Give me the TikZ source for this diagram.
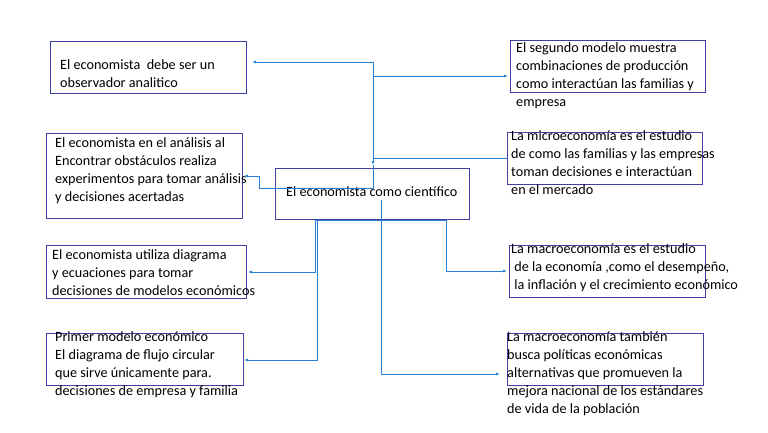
\documentclass[tikz,border=0pt]{standalone}
\usepackage{fontspec}
\setmainfont{Carlito}
\usetikzlibrary{arrows.meta}
\begin{document}
\begin{tikzpicture}[x=1pt,y=-1pt,
 bx/.style={draw=blue!45!gray!90!black,line width=0.9pt},
 tx/.style={anchor=north west,align=left,font=\fontsize{14.2}{18}\selectfont,inner sep=0pt},
 ln/.style={draw=blue!50!cyan!70!gray,line width=0.8pt},
 ar/.style={ln,-{Latex[length=4pt,width=3pt]}}]
\useasboundingbox (0,0) rectangle (768,433);
\draw[bx] (50,41) rectangle (246,93); \node[tx] (t1) at (60,59) {El economista\ \ debe ser un\\observador analitico};
\draw[bx] (510,40) rectangle (705,92); \node[tx] (t2) at (516,42) {El segundo modelo muestra\\combinaciones de producción\\como interactúan las familias y\\empresa};
\draw[bx] (46,133) rectangle (242,218); \node[tx] (t3) at (55,137) {El economista en el análisis al\\Encontrar obstáculos realiza\\experimentos para tomar análisis\\y decisiones acertadas};
\draw[bx] (507,132) rectangle (702,184); \node[tx] (t4) at (511,130) {La microeconomía es el estudio\\de como las familias y las empresas\\toman decisiones e interactúan\\en el mercado};
\draw[bx] (275,168) rectangle (469,219); \node[tx] (c) at (286,186) {El economista como científico};
\draw[bx] (46,245) rectangle (246,298); \node[tx] (t5) at (52,249) {El economista utiliza diagrama\\y ecuaciones para tomar\\decisiones de modelos económicos};
\draw[bx] (509,245) rectangle (705,297); \node[tx] (t6) at (511,243) {La macroeconomía es el estudio\\\ de la economía ,como el desempeño,\\\ la inflación y el crecimiento económico};
\draw[bx] (46,333) rectangle (243,385); \node[tx] (t7) at (55,331) {Primer modelo económico\\El diagrama de flujo circular\\que sirve únicamente para.\\decisiones de empresa y familia};
\draw[bx] (507,333) rectangle (703,385); \node[tx] (t8) at (507,331) {La macroeconomía también\\busca políticas económicas\\alternativas que promueven la\\mejora nacional de los estándares\\de vida de la población};
\coordinate (a1) at (252,62); \coordinate (a2) at (508,76); \coordinate (a3) at (244,176);
\coordinate (a4) at (373,165); \coordinate (a5) at (248,272); \coordinate (a6) at (507,271);
\coordinate (a7) at (244,360); \coordinate (a8) at (500,374);
\draw[ar] (373,62) -- (a1);
\draw[ar] (373,76) -- (a2);
\draw[ln] (373,158) -- (507,158);
\draw[ar] (373,62) -- (a4);
\draw[ar] (373,165) -- (373,188) -- (259,188) -- (259,176) -- (a3);
\draw[ln] (315,220) -- (446,220);
\draw[ar] (315,220) -- (315,272) -- (a5);
\draw[ar] (317,220) -- (317,360) -- (a7);
\draw[ar] (381,200) -- (381,374) -- (a8);
\draw[ar] (446,220) -- (446,271) -- (a6);
\end{tikzpicture}
\end{document}
